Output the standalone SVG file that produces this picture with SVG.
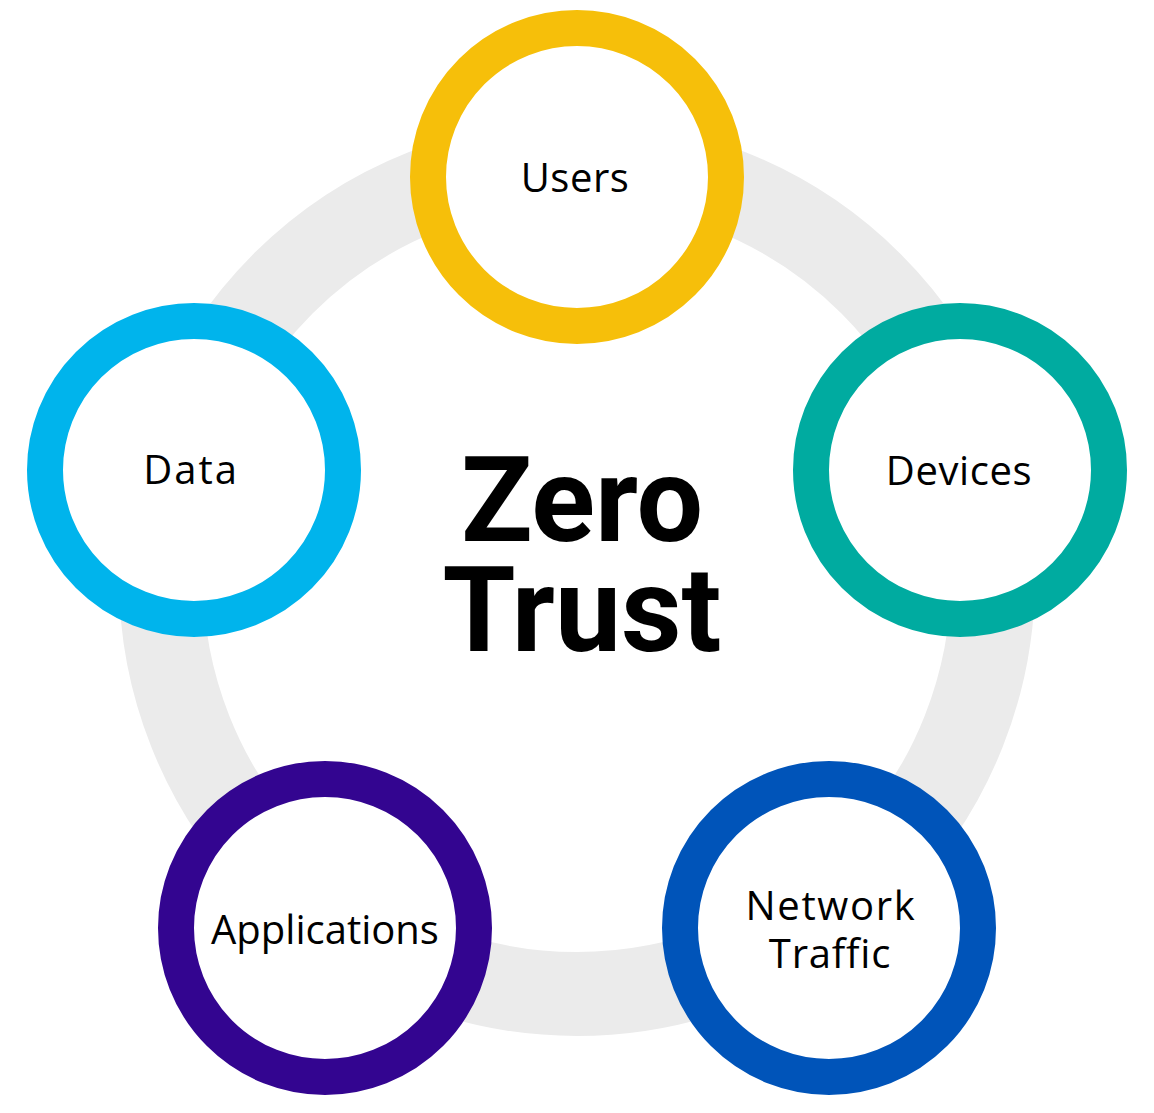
<svg xmlns="http://www.w3.org/2000/svg" width="1154" height="1113" viewBox="0 0 1154 1113">
<style>
.ring{fill:#fff;stroke-width:36}
.lbl{font-family:"Open Sans","Noto Sans",sans-serif;font-size:40px;fill:#000;text-anchor:middle}
.title{font-family:Roboto,"Liberation Sans",sans-serif;font-weight:700;font-size:118px;fill:#000;text-anchor:middle}
</style>
<rect width="1154" height="1113" fill="#fff"/>
<g id="connectors">
<circle cx="577" cy="578" r="416" fill="none" stroke="#ebebeb" stroke-width="84"/>
</g>
<g id="center"><text class="title" x="582" y="541">Zero</text><text class="title" x="582" y="651">Trust</text></g>
<g id="users"><circle class="ring" cx="577" cy="177" r="149" stroke="#f6bf0a"/><text class="lbl" x="575" y="192" letter-spacing="0.5">Users</text></g>
<g id="devices"><circle class="ring" cx="960" cy="470" r="149" stroke="#00aba0"/><text class="lbl" x="959" y="485" letter-spacing="0.6">Devices</text></g>
<g id="data"><circle class="ring" cx="194" cy="470" r="149" stroke="#00b4ec"/><text class="lbl" x="191" y="484" font-size="42" letter-spacing="2">Data</text></g>
<g id="applications"><circle class="ring" cx="325" cy="928" r="149" stroke="#330590"/><text class="lbl" x="325" y="944">Applications</text></g>
<g id="network"><circle class="ring" cx="829" cy="928" r="149" stroke="#0054b9"/><text class="lbl" x="831" y="920" letter-spacing="1.7">Network</text><text class="lbl" x="830" y="968" letter-spacing="0.8">Traffic</text></g>
</svg>
